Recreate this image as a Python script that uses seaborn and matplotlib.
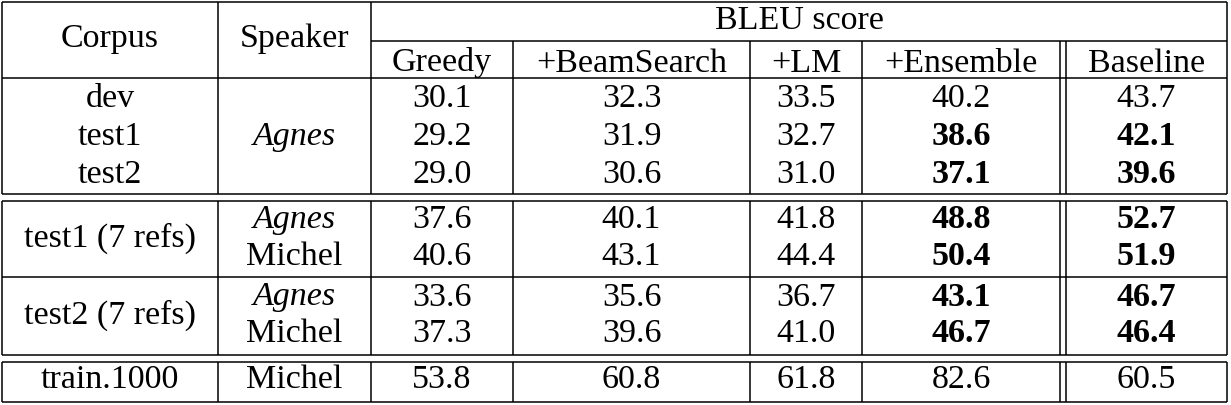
import matplotlib
matplotlib.use("Agg")
import matplotlib.pyplot as plt
import seaborn as sns

sns.set_theme(style="white")
plt.rcParams['font.family'] = ['Liberation Serif', 'DejaVu Serif']

# ---- data ----
header_corpus = "Corpus"
header_speaker = "Speaker"
header_group = "BLEU score"
methods = ["Greedy", "+BeamSearch", "+LM", "+Ensemble", "Baseline"]

corpus_labels = ["dev", "test1", "test2", "test1 (7 refs)", "test2 (7 refs)", "train.1000"]
speaker_labels = ["Agnes", "Agnes", "Michel", "Agnes", "Michel", "Michel"]
speaker_italic = [True, True, False, True, False, False]

greedy = [30.1, 29.2, 29.0, 37.6, 40.6, 33.6, 37.3, 53.8]
beam = [32.3, 31.9, 30.6, 40.1, 43.1, 35.6, 39.6, 60.8]
lm = [33.5, 32.7, 31.0, 41.8, 44.4, 36.7, 41.0, 61.8]
ensemble = [40.2, 38.6, 37.1, 48.8, 50.4, 43.1, 46.7, 82.6]
baseline = [43.7, 42.1, 39.6, 52.7, 51.9, 46.7, 46.4, 60.5]
bold_ensemble = [False, True, True, True, True, True, True, False]
bold_baseline = [False, True, True, True, True, True, True, False]

# ---- layout (pixel grid) ----
W, H = 1231, 405
col_edges = [2, 218, 371, 513, 750, 862, 1060, 1227]
dbl_gap = 6  # second line of the double vertical rule before Baseline
row_base = [106.7, 145, 183, 228.3, 265, 305.5, 342.5, 388.3]
blocks = [(2, 193.5), (200.5, 355), (361.7, 401.5)]
sub_line = 41
head_line = 78
mid_line_b = 277

fs = 24.5
lw = 1.1

fig = plt.figure(figsize=(W / 100, H / 100), dpi=100)
ax = fig.add_axes([0, 0, 1, 1])
ax.set_xlim(0, W)
ax.set_ylim(H, 0)
ax.axis('off')


def vline(x, y0, y1):
    ax.plot([x, x], [y0, y1], color='black', lw=lw, solid_capstyle='butt')


def hline(y, x0, x1):
    ax.plot([x0, x1], [y, y], color='black', lw=lw, solid_capstyle='butt')


left, right = col_edges[0], col_edges[-1]
dbl_x = col_edges[6] + dbl_gap

# block A (header + first group)
yA0, yA1 = blocks[0]
hline(yA0, left, right)
hline(sub_line, col_edges[2], right)
hline(head_line, left, right)
hline(yA1, left, right)
for x in [col_edges[0], col_edges[1], col_edges[2], col_edges[-1]]:
    vline(x, yA0, yA1)
for x in col_edges[3:7] + [dbl_x]:
    vline(x, sub_line, yA1)

# block B and C
for (y0, y1) in blocks[1:]:
    hline(y0, left, right)
    hline(y1, left, right)
    for x in col_edges + [dbl_x]:
        vline(x, y0, y1)
hline(mid_line_b, left, right)

# ---- text ----
def cx(i):
    if i == 6:
        return (dbl_x + col_edges[7]) / 2
    return (col_edges[i] + col_edges[i + 1]) / 2


def txt(x, y, s, bold=False, italic=False):
    ax.text(x, y, s, ha='center', va='baseline', fontsize=fs,
            fontweight='bold' if bold else 'normal',
            fontstyle='italic' if italic else 'normal', color='black')


txt(cx(0), 46.7, header_corpus)
txt(cx(1), 46.7, header_speaker)
txt((col_edges[2] + col_edges[7]) / 2, 29, header_group)
for j, m in enumerate(methods):
    txt(cx(2 + j), 71.5, m)

# corpus column
txt(cx(0), row_base[0], corpus_labels[0])
txt(cx(0), row_base[1], corpus_labels[1])
txt(cx(0), row_base[2], corpus_labels[2])
txt(cx(0), (row_base[3] + row_base[4]) / 2, corpus_labels[3])
txt(cx(0), (row_base[5] + row_base[6]) / 2, corpus_labels[4])
txt(cx(0), row_base[7], corpus_labels[5])

# speaker column
spk_rows = [row_base[1], row_base[3], row_base[4], row_base[5], row_base[6], row_base[7]]
for y, s, it in zip(spk_rows, speaker_labels, speaker_italic):
    txt(cx(1), y, s, italic=it)

# values
for r in range(len(greedy)):
    y = row_base[r]
    txt(cx(2), y, f"{greedy[r]:.1f}")
    txt(cx(3), y, f"{beam[r]:.1f}")
    txt(cx(4), y, f"{lm[r]:.1f}")
    txt(cx(5), y, f"{ensemble[r]:.1f}", bold=bold_ensemble[r])
    txt(cx(6), y, f"{baseline[r]:.1f}", bold=bold_baseline[r])

fig.savefig("out.png", dpi=100, facecolor='white')
